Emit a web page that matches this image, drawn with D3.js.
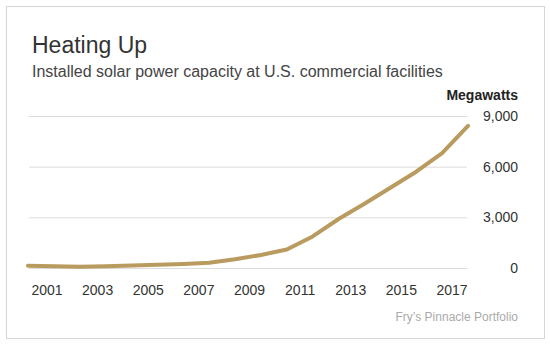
<!DOCTYPE html>
<html>
<head>
<meta charset="utf-8">
<script src="https://cdn.jsdelivr.net/npm/d3@7"></script>
<style>
  body { margin: 0; background: #fff; }
  svg { display: block; font-family: "Liberation Sans", Arial, Helvetica, sans-serif; }
</style>
</head>
<body>
<div id="chart"></div>
<script>
// Annual installed capacity, megawatts
const years = [2000, 2001, 2002, 2003, 2004, 2005, 2006, 2007, 2008,
               2009, 2010, 2011, 2012, 2013, 2014, 2015, 2016, 2017];
const capacity = [140, 110, 80, 100, 150, 190, 240, 310, 520,
                  770, 1100, 1870, 2900, 3800, 4750, 5700, 6800, 8420];
const yearLabels = [2001, 2003, 2005, 2007, 2009, 2011, 2013, 2015, 2017];
const yTicks = [0, 3000, 6000, 9000];

const width = 550, height = 348;

const svg = d3.select("#chart").append("svg")
    .attr("width", width)
    .attr("height", height);

// cadre
svg.append("rect")
    .attr("x", 6.5).attr("y", 6.5)
    .attr("width", 538).attr("height", 332)
    .attr("fill", "#fff")
    .attr("stroke", "#d6d6d6");

// titres
svg.append("text")
    .attr("x", 32).attr("y", 53)
    .attr("font-size", 23)
    .attr("fill", "#333")
    .text("Heating Up");

svg.append("text")
    .attr("x", 32).attr("y", 77)
    .attr("font-size", 16)
    .attr("fill", "#444")
    .text("Installed solar power capacity at U.S. commercial facilities");

svg.append("text")
    .attr("x", 518).attr("y", 100)
    .attr("text-anchor", "end")
    .attr("font-size", 14)
    .attr("font-weight", "bold")
    .attr("fill", "#222")
    .text("Megawatts");

// échelles
const x = d3.scaleLinear()
    .domain(d3.extent(years))
    .range([28, 468]);

const xLabel = d3.scaleLinear()
    .domain([yearLabels[0], yearLabels[yearLabels.length - 1]])
    .range([46.5, 451.5]);

const y = d3.scaleLinear()
    .domain([0, 9000])
    .range([268, 116]);

// grille + axe Y à droite
const yAxis = svg.append("g")
    .attr("transform", "translate(518,0)")
    .call(d3.axisRight(y)
        .tickValues(yTicks)
        .tickSize(0)
        .tickFormat(d3.format(",")));
yAxis.select(".domain").remove();
yAxis.selectAll("text")
    .attr("x", 0)
    .attr("text-anchor", "end")
    .attr("font-size", 14)
    .attr("font-family", "inherit")
    .attr("fill", "#333");

svg.append("g")
    .selectAll("line")
    .data(yTicks)
    .enter().append("line")
    .attr("x1", 29)
    .attr("x2", 467)
    .attr("y1", d => y(d) + 0.5)
    .attr("y2", d => y(d) + 0.5)
    .attr("stroke", "#dcdcdc");

// axe X (années)
const xAxis = svg.append("g")
    .attr("transform", "translate(0,282)")
    .call(d3.axisBottom(xLabel)
        .tickValues(yearLabels)
        .tickSize(0)
        .tickFormat(d3.format("d")));
xAxis.select(".domain").remove();
xAxis.selectAll("text")
    .attr("font-size", 14)
    .attr("font-family", "inherit")
    .attr("fill", "#333");

// courbe
const line = d3.line()
    .x((d, i) => x(years[i]))
    .y(d => y(d));

svg.append("path")
    .datum(capacity)
    .attr("d", line)
    .attr("fill", "none")
    .attr("stroke", "#b99b5f")
    .attr("stroke-width", 4)
    .attr("stroke-linecap", "round")
    .attr("stroke-linejoin", "round");

// source
svg.append("text")
    .attr("x", 518).attr("y", 321)
    .attr("text-anchor", "end")
    .attr("font-size", 12)
    .attr("fill", "#aaa")
    .text("Fry\u2019s Pinnacle Portfolio");
</script>
</body>
</html>
